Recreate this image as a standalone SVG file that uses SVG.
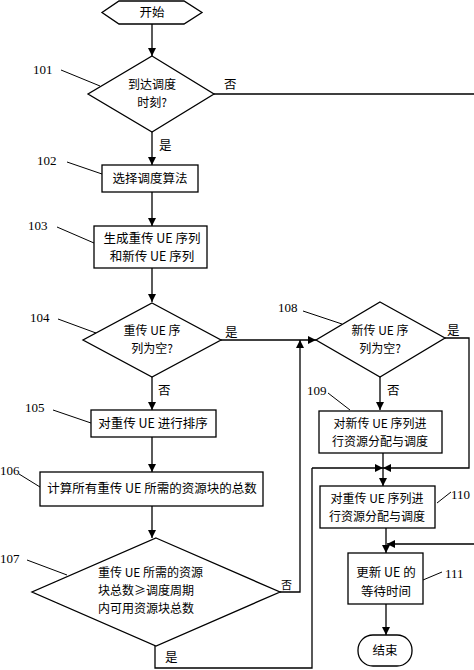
<svg xmlns="http://www.w3.org/2000/svg" width="474" height="670" viewBox="0 0 474 670">
<defs>
<marker id="ah" viewBox="0 0 10 10" refX="10" refY="5" markerWidth="8" markerHeight="8" markerUnits="userSpaceOnUse" orient="auto">
<path d="M0,0 L10,5 L0,10 z" fill="#000"/>
</marker>
<style>
.s{fill:#fff;stroke:#000;stroke-width:1.3}
.c{fill:none;stroke:#000;stroke-width:1.3}
.a{fill:none;stroke:#000;stroke-width:1.3;marker-end:url(#ah)}
.l{fill:none;stroke:#000;stroke-width:1}
.t{font-family:"Noto Sans CJK SC","Liberation Serif",serif;font-size:12.5px;fill:#000;text-anchor:middle}
.tl{font-family:"Noto Sans CJK SC","Liberation Serif",serif;font-size:12.5px;fill:#000}
.m{font-size:12px}
.n{font-family:"Liberation Serif",serif;font-size:13px;fill:#000}
</style>
</defs>
<rect width="474" height="670" fill="#fff"/>
<g id="connectors">
<path class="a" d="M152,24 V56"/>
<path class="a" d="M152,132 V165"/>
<path class="a" d="M152,192 V226"/>
<path class="a" d="M152,268 V302"/>
<path class="a" d="M221,340 H316"/>
<path class="a" d="M152,377 V410"/>
<path class="a" d="M152,437 V472"/>
<path class="a" d="M152,506 V538"/>
<path class="a" d="M280,592 H300 V340"/>
<path class="c" d="M155,646 V668 H312 V468"/>
<path class="a" d="M312,468 H383"/>
<path class="a" d="M380,377 V410"/>
<path class="a" d="M383,453 V486"/>
<path class="a" d="M445,338 H469 V468 H383"/>
<path class="a" d="M214,94 H476 V544 H387"/>
<path class="a" d="M386,528 V553"/>
<path class="a" d="M386,604 V635"/>
<text class="tl" x="224" y="89">否</text>
<text class="tl" x="159" y="150">是</text>
<text class="tl" x="225" y="337">是</text>
<text class="tl" x="158" y="395">否</text>
<text class="tl" x="447" y="335">是</text>
<text class="tl" x="387" y="395">否</text>
<text class="tl" x="281" y="589" style="font-size:11px">否</text>
<text class="tl" x="165" y="662">是</text>
</g>
<g id="start">
<path class="s" d="M119,1 H184 L202,12.5 L184,24 H119 L102,12.5 Z"/>
<text class="t" x="152" y="17">开始</text>
</g>
<g id="n101">
<path class="s" d="M152,56 L214,94 L152,132 L88,94 Z"/>
<text class="t m" x="152" y="89">到达调度</text>
<text class="t m" x="152" y="107">时刻?</text>
<text class="n" x="33" y="74">101</text>
<path class="l" d="M61,70 L100,86"/>
</g>
<g id="n102">
<rect class="s" x="102" y="165" width="96" height="27"/>
<text class="t" x="150" y="183">选择调度算法</text>
<text class="n" x="37" y="165">102</text>
<path class="l" d="M67,162 L102,174"/>
</g>
<g id="n103">
<rect class="s" x="94" y="226" width="113" height="42"/>
<text class="t" x="152" y="243">生成重传 UE 序列</text>
<text class="t" x="152" y="261">和新传 UE 序列</text>
<text class="n" x="28" y="230">103</text>
<path class="l" d="M57,227 L94,243"/>
</g>
<g id="n104">
<path class="s" d="M152,303 L221,340 L152,377 L83,340 Z"/>
<text class="t m" x="152" y="335">重传 UE 序</text>
<text class="t m" x="152" y="353">列为空?</text>
<text class="n" x="30" y="322">104</text>
<path class="l" d="M58,319 L96,333"/>
</g>
<g id="n105">
<rect class="s" x="91" y="410" width="125" height="27"/>
<text class="t" x="153" y="428">对重传 UE 进行排序</text>
<text class="n" x="25" y="412">105</text>
<path class="l" d="M53,410 L91,423"/>
</g>
<g id="n106">
<rect class="s" x="40" y="472" width="223" height="34"/>
<text class="t" x="152" y="493">计算所有重传 UE 所需的资源块的总数</text>
<text class="n" x="0" y="475">106</text>
<path class="l" d="M19,474 L40,487"/>
</g>
<g id="n107">
<path class="s" d="M156,538 L280,592 L156,646 L32,592 Z"/>
<text class="tl m" x="98" y="577">重传 UE 所需的资源</text>
<text class="tl m" x="98" y="595">块总数≥调度周期</text>
<text class="tl m" x="98" y="613">内可用资源块总数</text>
<text class="n" x="0" y="563">107</text>
<path class="l" d="M27,560 L67,575"/>
</g>
<g id="n108">
<path class="s" d="M380,302 L445,338 L380,377 L316,340 Z"/>
<text class="t m" x="380" y="335">新传 UE 序</text>
<text class="t m" x="380" y="353">列为空?</text>
<text class="n" x="278" y="312">108</text>
<path class="l" d="M303,311 L342,324"/>
</g>
<g id="n109">
<rect class="s" x="319" y="411" width="123" height="42"/>
<text class="t m" x="380" y="428">对新传 UE 序列进</text>
<text class="t m" x="380" y="446">行资源分配与调度</text>
<text class="n" x="307" y="395">109</text>
<path class="l" d="M328,393 L350,410"/>
</g>
<g id="n110">
<rect class="s" x="320" y="486" width="115" height="42"/>
<text class="t m" x="377" y="503">对重传 UE 序列进</text>
<text class="t m" x="377" y="521">行资源分配与调度</text>
<text class="n" x="451" y="499">110</text>
<path class="l" d="M437,503 L451,492"/>
</g>
<g id="n111">
<rect class="s" x="348" y="553" width="75" height="51"/>
<text class="t" x="386" y="577">更新 UE 的</text>
<text class="t" x="386" y="596">等待时间</text>
<text class="n" x="445" y="578">111</text>
<path class="l" d="M423,580 L442,572"/>
</g>
<g id="end">
<rect class="s" x="358" y="635" width="54" height="31" rx="15" ry="15"/>
<text class="t" x="385" y="655">结束</text>
</g>
</svg>
